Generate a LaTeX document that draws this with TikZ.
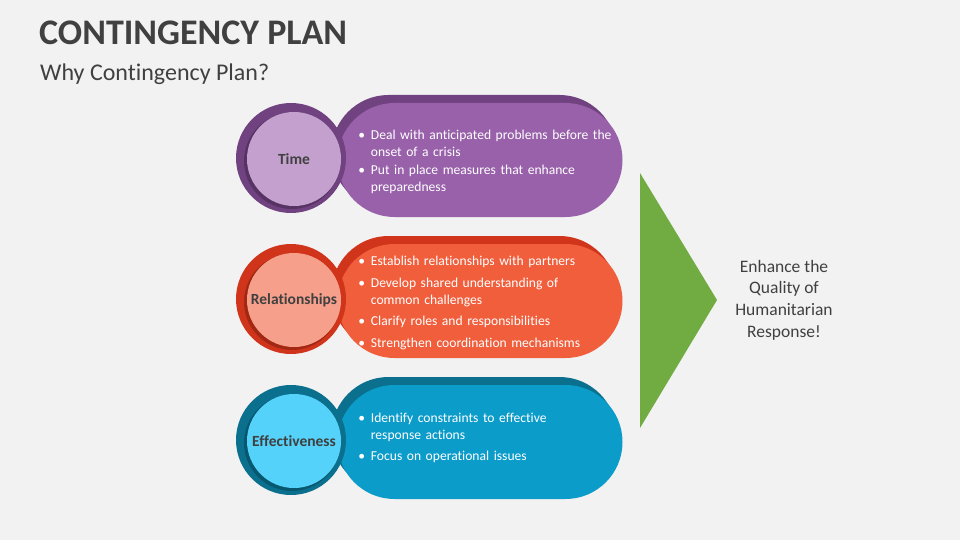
\documentclass[tikz,border=0pt]{standalone}
\usepackage{fontspec}
\setmainfont{Carlito}[Ligatures=NoCommon,Contextuals=NoAlternate]
\usepackage{tikz}
\usetikzlibrary{positioning}
\definecolor{bg}{HTML}{F2F2F2}
\definecolor{ink}{HTML}{404040}
\definecolor{tim}{RGB}{152,97,170}
\definecolor{timd}{RGB}{112,66,128}
\definecolor{timl}{RGB}{196,160,206}
\definecolor{rel}{RGB}{240,94,60}
\definecolor{reld}{RGB}{208,52,26}
\definecolor{rell}{RGB}{246,160,140}
\definecolor{eff}{RGB}{12,156,202}
\definecolor{effd}{RGB}{10,112,142}
\definecolor{effl}{RGB}{84,210,250}
\definecolor{arr}{RGB}{112,172,66}
\newcommand{\bul}[1][0pt]{\par\vspace{#1}\hangindent=12.5pt\hangafter=1\noindent\makebox[12.5pt][l]{\textbullet}\ignorespaces}

\begin{document}
\begin{tikzpicture}[x=1pt,y=-1pt,node distance=12pt,
  pill/.style={rounded corners=57pt,minimum width=285pt,minimum height=114pt,inner sep=0pt},
  ring/.style={circle,minimum size=110pt,inner sep=0pt},
  coreshadow/.style={circle,minimum size=96pt,inner sep=0pt,fill=black,opacity=.22},
  core/.style={circle,minimum size=94pt,inner sep=0pt,font=\fontsize{15.5}{18}\selectfont\bfseries,text=ink},
  pts/.style={text width=265pt,align=left,text=white,inner sep=0pt,font=\fontsize{13.6}{17}\selectfont},
  ttl/.style={anchor=base west,inner sep=0pt,text=ink}]
  \fill[bg] (0,0) rectangle (960,540);
  \useasboundingbox (0,0) rectangle (960,540);
  \node[ttl,font=\fontsize{36}{40}\selectfont\bfseries] (title) at (39,45) {CONTINGENCY PLAN};
  \node[ttl,font=\fontsize{24}{28}\selectfont] (sub) at (40,81) {Why Contingency Plan?};
  % time
  \node[pill,fill=timd] (timeback) at (474,152) {};
  \node[pill,fill=tim] (timepill) at (480,160) {};
  \node[ring,fill=timd] (timering) at (291,158) {};
  \node[coreshadow] at (292,161) {};
  \node[core,fill=timl] (time) at (294,159) {Time};
  \node[pts,right=of timering] (timetxt) {%
    \bul Deal with anticipated problems before the\newline onset of a crisis
    \bul[1pt] Put in place measures that enhance\newline preparedness\par};
  % relationships
  \node[pill,fill=reld] (relback) at (474,293) {};
  \node[pill,fill=rel] (relpill) at (480,301) {};
  \node[ring,fill=reld] (relring) at (291,299) {};
  \node[coreshadow] at (292,302) {};
  \node[core,fill=rell] (rel) at (294,300) {Relationships};
  \node[pts,right=of relring] (reltxt) {%
    \bul Establish relationships with partners
    \bul[4.5pt] Develop shared understanding of\newline common challenges
    \bul[4.5pt] Clarify roles and responsibilities
    \bul[4.5pt] Strengthen coordination mechanisms\par};
  % effectiveness
  \node[pill,fill=effd] (effback) at (474,434) {};
  \node[pill,fill=eff] (effpill) at (480,442) {};
  \node[ring,fill=effd] (effring) at (291,440) {};
  \node[coreshadow] at (292,443) {};
  \node[core,fill=effl] (eff) at (294,441) {Effectiveness};
  \node[pts,right=of effring,yshift=6pt] (efftxt) {%
    \bul Identify constraints to effective\newline response actions
    \bul[4.5pt] Focus on operational issues\par};
  % arrow
  \coordinate (tritop) at (640,173);
  \coordinate (tribot) at (640,428);
  \coordinate (tritip) at (717,300);
  \fill[arr] (tritop) -- (tritip) -- (tribot) -- cycle;
  \node[align=center,font=\fontsize{17.5}{21.7}\selectfont,text=ink] (goal) at (784,300)
    {Enhance the\\Quality of\\Humanitarian\\Response!};
\end{tikzpicture}
\end{document}
